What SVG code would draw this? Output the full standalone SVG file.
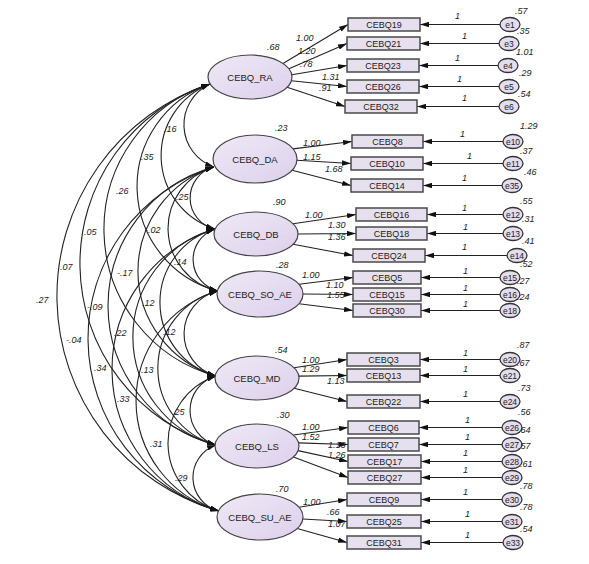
<svg xmlns="http://www.w3.org/2000/svg" width="589" height="564" viewBox="0 0 589 564">
<defs>
<linearGradient id="lg" x1="0" y1="0" x2="1" y2="1">
<stop offset="0" stop-color="#efe9f6"/>
<stop offset="1" stop-color="#ddd0ec"/>
</linearGradient>
<marker id="ah" viewBox="0 0 10 6" refX="10" refY="3" markerWidth="9" markerHeight="5.4" markerUnits="userSpaceOnUse" orient="auto-start-reverse">
<path d="M0,0 L10,3 L0,6 z" fill="#111"/>
</marker>
</defs>
<style>
.lat{fill:url(#lg);stroke:#444;stroke-width:1.2}
.box{fill:#e6e0ee;stroke:#4a4a4a;stroke-width:1.5}
.err{fill:#e4dcef;stroke:#333;stroke-width:1.3}
.ln{fill:none;stroke:#222;stroke-width:1.1;marker-end:url(#ah)}
.cv{fill:none;stroke:#222;stroke-width:1.1;marker-start:url(#ah);marker-end:url(#ah)}
.lt{font-family:"Liberation Sans",Arial,sans-serif;font-size:9.5px;fill:#222;text-anchor:middle}
.bt{font-family:"Liberation Sans",Arial,sans-serif;font-size:9px;fill:#222;text-anchor:middle}
.et{font-family:"Liberation Sans",Arial,sans-serif;font-size:8.5px;fill:#222;text-anchor:middle}
.n{font-family:"Liberation Sans",Arial,sans-serif;font-size:9px;font-style:italic;fill:#222}
</style>
<rect width="589" height="564" fill="#fff"/>

<g id="connectors">
<path class="cv" d="M210 84 A44.8 44.8 0 0 0 214 167"/>
<path class="cv" d="M210 84 A76.9 76.9 0 0 0 215 229"/>
<path class="cv" d="M210 84 A108.2 108.2 0 0 0 218 291"/>
<path class="cv" d="M210 84 A152.3 152.3 0 0 0 216 376"/>
<path class="cv" d="M210 84 A189 189 0 0 0 216 445"/>
<path class="cv" d="M210 84 A223.5 223.5 0 0 0 219 511"/>
<path class="cv" d="M214 167 A31.9 31.9 0 0 0 215 229"/>
<path class="cv" d="M214 167 A64.1 64.1 0 0 0 218 291"/>
<path class="cv" d="M214 167 A109.4 109.4 0 0 0 216 376"/>
<path class="cv" d="M214 167 A143.8 143.8 0 0 0 216 445"/>
<path class="cv" d="M214 167 A179.4 179.4 0 0 0 219 511"/>
<path class="cv" d="M215 229 A32.3 32.3 0 0 0 218 291"/>
<path class="cv" d="M215 229 A76.4 76.4 0 0 0 216 376"/>
<path class="cv" d="M215 229 A111.9 111.9 0 0 0 216 445"/>
<path class="cv" d="M215 229 A147.2 147.2 0 0 0 219 511"/>
<path class="cv" d="M218 291 A43.9 43.9 0 0 0 216 376"/>
<path class="cv" d="M218 291 A79.7 79.7 0 0 0 216 445"/>
<path class="cv" d="M218 291 A114.6 114.6 0 0 0 219 511"/>
<path class="cv" d="M216 376 A35.9 35.9 0 0 0 216 445"/>
<path class="cv" d="M216 376 A70.8 70.8 0 0 0 219 511"/>
<path class="cv" d="M216 445 A34.5 34.5 0 0 0 219 511"/>
<path class="ln" d="M283 63.5 L348 24.5"/>
<path class="ln" d="M289 68.8 L347 43.5"/>
<path class="ln" d="M291.8 74.7 L347 65.5"/>
<path class="ln" d="M291.4 80.8 L347 86.5"/>
<path class="ln" d="M287.1 87.3 L345 106.5"/>
<path class="ln" d="M293.1 148.9 L352 141.5"/>
<path class="ln" d="M296.9 160.3 L351 163.5"/>
<path class="ln" d="M292.1 170.3 L351 185.5"/>
<path class="ln" d="M293.1 223.7 L356 214.5"/>
<path class="ln" d="M298 234 L356 233.5"/>
<path class="ln" d="M293.1 244.3 L353 255.5"/>
<path class="ln" d="M299 284.3 L353 277.5"/>
<path class="ln" d="M303 294 L353 294.5"/>
<path class="ln" d="M299 303.7 L353 310.5"/>
<path class="ln" d="M294.1 367.7 L347 359.5"/>
<path class="ln" d="M298.8 376.1 L347 375.5"/>
<path class="ln" d="M294.1 388.3 L347 401.5"/>
<path class="ln" d="M293.4 435 L348 427.5"/>
<path class="ln" d="M298.6 442.9 L348 444.5"/>
<path class="ln" d="M298.1 450.6 L348 461.5"/>
<path class="ln" d="M293.4 457 L348 477.5"/>
<path class="ln" d="M299 507.3 L347 499.5"/>
<path class="ln" d="M302.8 519 L347 521.5"/>
<path class="ln" d="M297.2 528.5 L347 542.5"/>
<path class="ln" d="M500 24.5 L420 24.5"/>
<path class="ln" d="M499 43.5 L420 43.5"/>
<path class="ln" d="M498 65.5 L419 65.5"/>
<path class="ln" d="M499 86.5 L419 86.5"/>
<path class="ln" d="M499 106.5 L417 106.5"/>
<path class="ln" d="M503 141.5 L423 141.5"/>
<path class="ln" d="M503 163.5 L423 163.5"/>
<path class="ln" d="M502 185.5 L423 185.5"/>
<path class="ln" d="M503 214.5 L427 214.5"/>
<path class="ln" d="M503 233.5 L427 233.5"/>
<path class="ln" d="M507 255.5 L425 255.5"/>
<path class="ln" d="M500 277.5 L421 277.5"/>
<path class="ln" d="M500 294.5 L421 294.5"/>
<path class="ln" d="M500 310.5 L421 310.5"/>
<path class="ln" d="M500 359.5 L420 359.5"/>
<path class="ln" d="M500 375.5 L420 375.5"/>
<path class="ln" d="M500 401.5 L420 401.5"/>
<path class="ln" d="M502 427.5 L419 427.5"/>
<path class="ln" d="M502 444.5 L419 444.5"/>
<path class="ln" d="M502 461.5 L421 461.5"/>
<path class="ln" d="M502 477.5 L421 477.5"/>
<path class="ln" d="M502 499.5 L421 499.5"/>
<path class="ln" d="M502 521.5 L421 521.5"/>
<path class="ln" d="M503 542.5 L421 542.5"/>
</g>

<g id="cov-labels">
<text class="n" x="164" y="132">.16</text>
<text class="n" x="141" y="160">.35</text>
<text class="n" x="116" y="194">.26</text>
<text class="n" x="84" y="235">.05</text>
<text class="n" x="60" y="270">.07</text>
<text class="n" x="36" y="303">.27</text>
<text class="n" x="176" y="200">.25</text>
<text class="n" x="145" y="233">-.02</text>
<text class="n" x="117" y="276">-.17</text>
<text class="n" x="87" y="310">-.09</text>
<text class="n" x="66" y="343">-.04</text>
<text class="n" x="174" y="265">.14</text>
<text class="n" x="142" y="306">.12</text>
<text class="n" x="114" y="336">.22</text>
<text class="n" x="94" y="371">.34</text>
<text class="n" x="163" y="335">.12</text>
<text class="n" x="141" y="373">.13</text>
<text class="n" x="117" y="402">.33</text>
<text class="n" x="172" y="415">.25</text>
<text class="n" x="150" y="447">.31</text>
<text class="n" x="175" y="481">.29</text>
</g>

<g id="CEBQ_RA"><ellipse class="lat" cx="250" cy="77" rx="42" ry="22"/><text class="lt" x="250" y="80.5">CEBQ_RA</text><text class="n" x="267" y="50">.68</text>
<text class="n" x="296" y="41">1.00</text><text class="n" x="298" y="54">1.20</text><text class="n" x="300" y="67">.78</text><text class="n" x="322" y="80">1.31</text><text class="n" x="319" y="91">.91</text></g>
<g id="CEBQ_DA"><ellipse class="lat" cx="255" cy="159" rx="42" ry="24"/><text class="lt" x="255" y="162.5">CEBQ_DA</text><text class="n" x="275" y="131">.23</text>
<text class="n" x="303" y="146">1.00</text><text class="n" x="303" y="160">1.15</text><text class="n" x="325" y="172">1.68</text></g>
<g id="CEBQ_DB"><ellipse class="lat" cx="256" cy="234" rx="42" ry="22"/><text class="lt" x="256" y="237.5">CEBQ_DB</text><text class="n" x="273" y="205">.90</text>
<text class="n" x="305" y="218">1.00</text><text class="n" x="328" y="228">1.30</text><text class="n" x="328" y="240">1.36</text></g>
<g id="CEBQ_SO_AE"><ellipse class="lat" cx="260" cy="294" rx="43" ry="23"/><text class="lt" x="260" y="297.5">CEBQ_SO_AE</text><text class="n" x="276" y="268">.28</text>
<text class="n" x="302" y="278">1.00</text><text class="n" x="326" y="288">1.10</text><text class="n" x="327" y="298">1.55</text></g>
<g id="CEBQ_MD"><ellipse class="lat" cx="257" cy="378" rx="42" ry="22"/><text class="lt" x="257" y="381.5">CEBQ_MD</text><text class="n" x="275" y="353">.54</text>
<text class="n" x="302" y="363">1.00</text><text class="n" x="302" y="372">1.29</text><text class="n" x="327" y="384">1.13</text></g>
<g id="CEBQ_LS"><ellipse class="lat" cx="257" cy="446" rx="42" ry="22"/><text class="lt" x="257" y="449.5">CEBQ_LS</text><text class="n" x="277" y="418">.30</text>
<text class="n" x="302" y="430">1.00</text><text class="n" x="302" y="440">1.52</text><text class="n" x="328" y="448">1.16</text><text class="n" x="328" y="458">1.26</text></g>
<g id="CEBQ_SU_AE"><ellipse class="lat" cx="260" cy="517" rx="43" ry="23"/><text class="lt" x="260" y="520.5">CEBQ_SU_AE</text><text class="n" x="276" y="492">.70</text>
<text class="n" x="303" y="505">1.00</text><text class="n" x="327" y="515">.66</text><text class="n" x="328" y="527">1.07</text></g>

<g id="CEBQ19"><rect class="box" x="348" y="18" width="72" height="13"/><text class="bt" x="384" y="27.8">CEBQ19</text></g>
<g id="CEBQ21"><rect class="box" x="347" y="37" width="73" height="13"/><text class="bt" x="383.5" y="46.8">CEBQ21</text></g>
<g id="CEBQ23"><rect class="box" x="347" y="59" width="72" height="13"/><text class="bt" x="383" y="68.8">CEBQ23</text></g>
<g id="CEBQ26"><rect class="box" x="347" y="80" width="72" height="13"/><text class="bt" x="383" y="89.8">CEBQ26</text></g>
<g id="CEBQ32"><rect class="box" x="345" y="100" width="72" height="13"/><text class="bt" x="381" y="109.8">CEBQ32</text></g>
<g id="CEBQ8"><rect class="box" x="352" y="135" width="71" height="13"/><text class="bt" x="387.5" y="144.8">CEBQ8</text></g>
<g id="CEBQ10"><rect class="box" x="351" y="157" width="72" height="13"/><text class="bt" x="387" y="166.8">CEBQ10</text></g>
<g id="CEBQ14"><rect class="box" x="351" y="179" width="72" height="13"/><text class="bt" x="387" y="188.8">CEBQ14</text></g>
<g id="CEBQ16"><rect class="box" x="356" y="208" width="71" height="13"/><text class="bt" x="391.5" y="217.8">CEBQ16</text></g>
<g id="CEBQ18"><rect class="box" x="356" y="227" width="71" height="13"/><text class="bt" x="391.5" y="236.8">CEBQ18</text></g>
<g id="CEBQ24"><rect class="box" x="353" y="249" width="72" height="13"/><text class="bt" x="389" y="258.8">CEBQ24</text></g>
<g id="CEBQ5"><rect class="box" x="353" y="271" width="68" height="13"/><text class="bt" x="387" y="280.8">CEBQ5</text></g>
<g id="CEBQ15"><rect class="box" x="353" y="288" width="68" height="13"/><text class="bt" x="387" y="297.8">CEBQ15</text></g>
<g id="CEBQ30"><rect class="box" x="353" y="304" width="68" height="13"/><text class="bt" x="387" y="313.8">CEBQ30</text></g>
<g id="CEBQ3"><rect class="box" x="347" y="353" width="73" height="13"/><text class="bt" x="383.5" y="362.8">CEBQ3</text></g>
<g id="CEBQ13"><rect class="box" x="347" y="369" width="73" height="13"/><text class="bt" x="383.5" y="378.8">CEBQ13</text></g>
<g id="CEBQ22"><rect class="box" x="347" y="395" width="73" height="13"/><text class="bt" x="383.5" y="404.8">CEBQ22</text></g>
<g id="CEBQ6"><rect class="box" x="348" y="421" width="71" height="13"/><text class="bt" x="383.5" y="430.8">CEBQ6</text></g>
<g id="CEBQ7"><rect class="box" x="348" y="438" width="71" height="13"/><text class="bt" x="383.5" y="447.8">CEBQ7</text></g>
<g id="CEBQ17"><rect class="box" x="348" y="455" width="73" height="13"/><text class="bt" x="384.5" y="464.8">CEBQ17</text></g>
<g id="CEBQ27"><rect class="box" x="348" y="471" width="73" height="13"/><text class="bt" x="384.5" y="480.8">CEBQ27</text></g>
<g id="CEBQ9"><rect class="box" x="347" y="493" width="74" height="13"/><text class="bt" x="384" y="502.8">CEBQ9</text></g>
<g id="CEBQ25"><rect class="box" x="347" y="515" width="74" height="13"/><text class="bt" x="384" y="524.8">CEBQ25</text></g>
<g id="CEBQ31"><rect class="box" x="347" y="536" width="74" height="13"/><text class="bt" x="384" y="545.8">CEBQ31</text></g>

<g id="e1"><ellipse class="err" cx="510" cy="24.5" rx="10" ry="7"/><text class="et" x="510" y="27.5">e1</text><text class="n" x="455" y="19">1</text><text class="n" x="515" y="14">.57</text></g>
<g id="e3"><ellipse class="err" cx="509" cy="43.5" rx="10" ry="7"/><text class="et" x="509" y="46.5">e3</text><text class="n" x="462" y="39">1</text><text class="n" x="517" y="34">.35</text></g>
<g id="e4"><ellipse class="err" cx="508" cy="65.5" rx="10" ry="7"/><text class="et" x="508" y="68.5">e4</text><text class="n" x="455" y="61">1</text><text class="n" x="516" y="55">1.01</text></g>
<g id="e5"><ellipse class="err" cx="509" cy="86.5" rx="10" ry="7"/><text class="et" x="509" y="89.5">e5</text><text class="n" x="457" y="82">1</text><text class="n" x="519" y="76">.29</text></g>
<g id="e6"><ellipse class="err" cx="509" cy="106.5" rx="10" ry="7"/><text class="et" x="509" y="109.5">e6</text><text class="n" x="462" y="101">1</text><text class="n" x="518" y="97">.54</text></g>
<g id="e10"><ellipse class="err" cx="513" cy="141.5" rx="10" ry="7"/><text class="et" x="513" y="144.5">e10</text><text class="n" x="460" y="137">1</text><text class="n" x="520" y="129">1.29</text></g>
<g id="e11"><ellipse class="err" cx="513" cy="163.5" rx="10" ry="7"/><text class="et" x="513" y="166.5">e11</text><text class="n" x="467" y="159">1</text><text class="n" x="520" y="154">.37</text></g>
<g id="e35"><ellipse class="err" cx="512" cy="185.5" rx="10" ry="7"/><text class="et" x="512" y="188.5">e35</text><text class="n" x="462" y="181">1</text><text class="n" x="524" y="175">.46</text></g>
<g id="e12"><ellipse class="err" cx="513" cy="214.5" rx="10" ry="7"/><text class="et" x="513" y="217.5">e12</text><text class="n" x="462" y="211">1</text><text class="n" x="520" y="204">.55</text></g>
<g id="e13"><ellipse class="err" cx="513" cy="233.5" rx="10" ry="7"/><text class="et" x="513" y="236.5">e13</text><text class="n" x="463" y="230">1</text><text class="n" x="522" y="222">.31</text></g>
<g id="e14"><ellipse class="err" cx="517" cy="255.5" rx="10" ry="7"/><text class="et" x="517" y="258.5">e14</text><text class="n" x="462" y="250">1</text><text class="n" x="522" y="244">.41</text></g>
<g id="e15"><ellipse class="err" cx="510" cy="277.5" rx="10" ry="7"/><text class="et" x="510" y="280.5">e15</text><text class="n" x="463" y="274">1</text><text class="n" x="520" y="267">.52</text></g>
<g id="e16"><ellipse class="err" cx="510" cy="294.5" rx="10" ry="7"/><text class="et" x="510" y="297.5">e16</text><text class="n" x="463" y="291">1</text><text class="n" x="517" y="284">.27</text></g>
<g id="e18"><ellipse class="err" cx="510" cy="310.5" rx="10" ry="7"/><text class="et" x="510" y="313.5">e18</text><text class="n" x="463" y="307">1</text><text class="n" x="517" y="300">.24</text></g>
<g id="e20"><ellipse class="err" cx="510" cy="359.5" rx="10" ry="7"/><text class="et" x="510" y="362.5">e20</text><text class="n" x="463" y="356">1</text><text class="n" x="517" y="348">.87</text></g>
<g id="e21"><ellipse class="err" cx="510" cy="375.5" rx="10" ry="7"/><text class="et" x="510" y="378.5">e21</text><text class="n" x="463" y="372">1</text><text class="n" x="517" y="366">.67</text></g>
<g id="e24"><ellipse class="err" cx="510" cy="401.5" rx="10" ry="7"/><text class="et" x="510" y="404.5">e24</text><text class="n" x="463" y="397">1</text><text class="n" x="518" y="391">.73</text></g>
<g id="e26"><ellipse class="err" cx="512" cy="427.5" rx="10" ry="7"/><text class="et" x="512" y="430.5">e26</text><text class="n" x="465" y="423">1</text><text class="n" x="518" y="415">.56</text></g>
<g id="e27"><ellipse class="err" cx="512" cy="444.5" rx="10" ry="7"/><text class="et" x="512" y="447.5">e27</text><text class="n" x="465" y="440">1</text><text class="n" x="518" y="433">.64</text></g>
<g id="e28"><ellipse class="err" cx="512" cy="461.5" rx="10" ry="7"/><text class="et" x="512" y="464.5">e28</text><text class="n" x="463" y="456">1</text><text class="n" x="518" y="449">.57</text></g>
<g id="e29"><ellipse class="err" cx="512" cy="477.5" rx="10" ry="7"/><text class="et" x="512" y="480.5">e29</text><text class="n" x="463" y="473">1</text><text class="n" x="520" y="467">.61</text></g>
<g id="e30"><ellipse class="err" cx="512" cy="499.5" rx="10" ry="7"/><text class="et" x="512" y="502.5">e30</text><text class="n" x="463" y="495">1</text><text class="n" x="520" y="489">.78</text></g>
<g id="e31"><ellipse class="err" cx="512" cy="521.5" rx="10" ry="7"/><text class="et" x="512" y="524.5">e31</text><text class="n" x="465" y="517">1</text><text class="n" x="520" y="510">.78</text></g>
<g id="e33"><ellipse class="err" cx="513" cy="542.5" rx="10" ry="7"/><text class="et" x="513" y="545.5">e33</text><text class="n" x="465" y="538">1</text><text class="n" x="520" y="532">.54</text></g>
</svg>
